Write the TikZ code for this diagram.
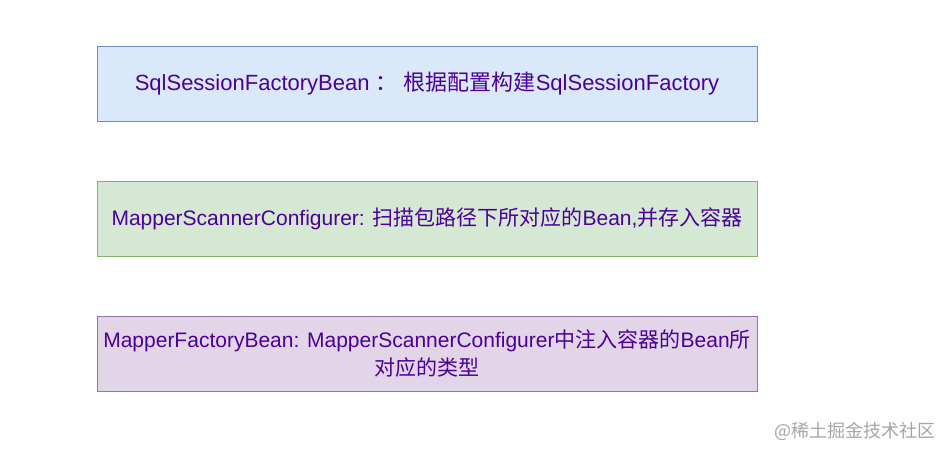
\documentclass[tikz,border=0pt]{standalone}
\usepackage{fontspec}
\setmainfont{Liberation Sans}
\newfontfamily\cjk{Noto Sans CJK SC}
\definecolor{txt}{HTML}{4C0099}
\definecolor{bfill}{HTML}{DAE8FC}\definecolor{bdraw}{HTML}{6C8EBF}
\definecolor{gfill}{HTML}{D5E8D4}\definecolor{gdraw}{HTML}{82B366}
\definecolor{pfill}{HTML}{E1D5E7}\definecolor{pdraw}{HTML}{9673A6}
\tikzset{
  card/.style={draw, line width=1pt, minimum width=660pt, minimum height=75pt, inner sep=0pt,
    text=txt, align=center, font=\fontsize{21pt}{27.5pt}\selectfont},
}
\begin{document}
\begin{tikzpicture}[x=1pt,y=-1pt]
\useasboundingbox[fill=white] (0,0) rectangle (943,448);
\node[card, fill=bfill, draw=bdraw, font=\fontsize{22pt}{28pt}\selectfont] (sql) at (427,83.5)
  {SqlSessionFactoryBean {\cjk ：} {\cjk 根据配置构建}SqlSessionFactory};
\node[card, fill=gfill, draw=gdraw] (scan) at (427,218.5)
  {MapperScannerConfigurer: {\cjk 扫描包路径下所对应的}Bean,{\cjk 并存入容器}};
\node[card, fill=pfill, draw=pdraw] (mfb) at (427,353.5)
  {MapperFactoryBean: MapperScannerConfigurer{\cjk 中注入容器的}Bean{\cjk 所}\\{\cjk 对应的类型}};
\node[anchor=east, text=black!35, font=\cjk\fontsize{18pt}{20pt}\selectfont, inner sep=0pt] (wm) at (936,431) {@稀土掘金技术社区};
\end{tikzpicture}
\end{document}
